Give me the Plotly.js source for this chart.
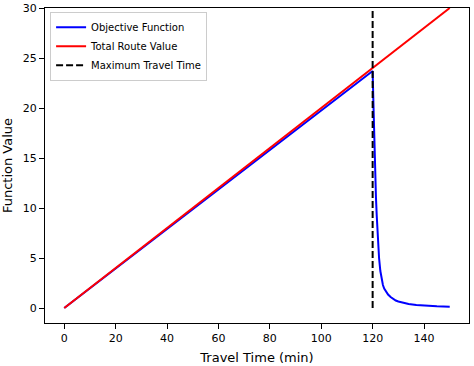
<!DOCTYPE html>
<html>
<head>
<meta charset="utf-8">
<script src="https://cdn.plot.ly/plotly-3.0.1.min.js"></script>
<style>html,body{margin:0;padding:0;background:#fff;}#chart{width:474px;height:366px;}</style>
</head>
<body>
<div id="chart"></div>
<script>
// Objective function
const objTime  = [0, 120, 120.3, 120.6, 121, 121.3, 121.6, 122, 122.5, 123, 123.5, 124, 124.5, 125, 126, 127, 128, 129, 130, 132, 134, 137, 140, 145, 150];
const objValue = [0, 23.7, 20.5, 17.0, 13.2, 11.0, 9.2, 7.0, 5.0, 3.7, 2.9, 2.3, 1.95, 1.7, 1.35, 1.1, 0.9, 0.75, 0.65, 0.5, 0.4, 0.3, 0.23, 0.17, 0.13];
// Total route value
const routeTime  = [0, 150];
const routeValue = [0, 30];
// Maximum travel time marker
const maxTravelTime = 120;
const maxLineY = [0, 30];
const xTicks = [0, 20, 40, 60, 80, 100, 120, 140];
const yTicks = [0, 5, 10, 15, 20, 25, 30];

const data = [
  {x: objTime, y: objValue, mode: 'lines', name: 'Objective Function',
   line: {color: '#0000ff', width: 2}},
  {x: routeTime, y: routeValue, mode: 'lines', name: 'Total Route Value',
   line: {color: '#ff0000', width: 2}},
  {x: [maxTravelTime, maxTravelTime], y: maxLineY, mode: 'lines', name: 'Maximum Travel Time',
   line: {color: '#000000', width: 2, dash: '7px,3px'}}
];

const axisCommon = {
  showline: true, linecolor: '#000', linewidth: 1, mirror: true,
  ticks: 'outside', ticklen: 5, tickwidth: 1, tickcolor: '#000',
  showgrid: false, zeroline: false,
  tickfont: {family: 'DejaVu Sans', size: 11, color: '#000'}
};

const layout = {
  width: 474, height: 366,
  margin: {l: 45, r: 5, t: 8, b: 43},
  paper_bgcolor: '#fff', plot_bgcolor: '#fff',
  showlegend: true,
  xaxis: Object.assign({}, axisCommon, {
    range: [-7.5, 157.5], tickvals: xTicks, ticktext: xTicks.map(String),
    title: {text: 'Travel Time (min)', font: {family: 'DejaVu Sans', size: 13, color: '#000'}, standoff: 8}
  }),
  yaxis: Object.assign({}, axisCommon, {
    range: [-1.5, 30], tickvals: yTicks, ticktext: yTicks.map(String),
    title: {text: 'Function Value', font: {family: 'DejaVu Sans', size: 13, color: '#000'}, standoff: 8}
  }),
  legend: {
    x: 0.012, y: 0.988, xanchor: 'left', yanchor: 'top',
    bgcolor: 'rgba(255,255,255,0.8)', bordercolor: '#cccccc', borderwidth: 1,
    font: {family: 'DejaVu Sans', size: 10, color: '#000'},
    itemwidth: 30, tracegroupgap: 0
  }
};

Plotly.newPlot('chart', data, layout, {displayModeBar: false, staticPlot: true});
</script>
</body>
</html>
